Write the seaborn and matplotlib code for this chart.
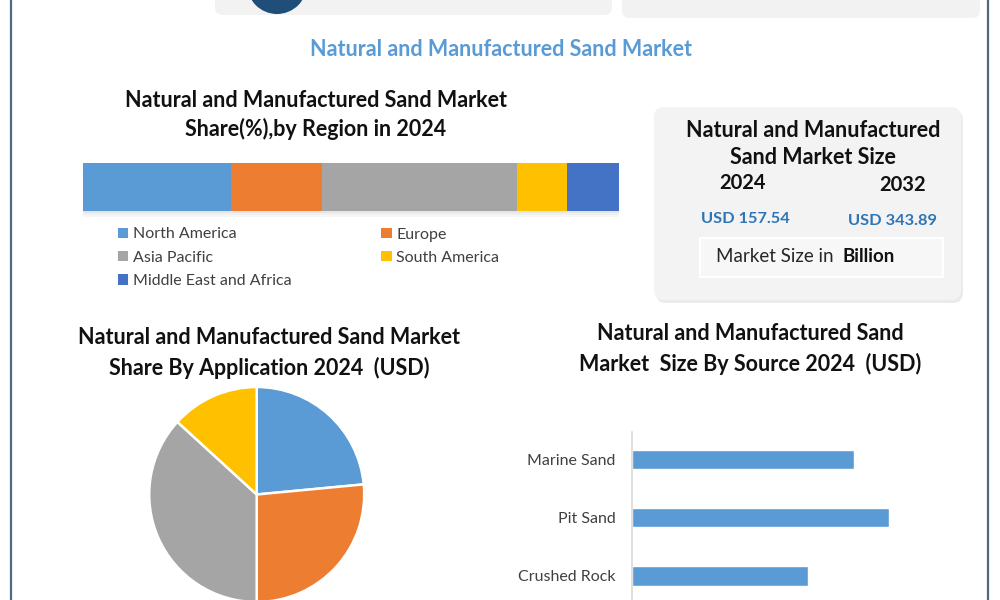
import matplotlib
matplotlib.use("Agg")
import matplotlib.pyplot as plt
from matplotlib import font_manager
from matplotlib.patches import FancyBboxPatch, Rectangle, Circle
import seaborn as sns
import numpy as np

# ---------------- data ----------------
regions = ["North America", "Europe", "Asia Pacific", "South America", "Middle East and Africa"]
region_share = [27.6, 17.0, 36.4, 9.3, 9.7]
region_colors = ["#5b9bd5", "#ed7d31", "#a5a5a5", "#ffc000", "#4472c4"]

applications = ["Application 1", "Application 2", "Application 3", "Application 4"]
application_share = [23.5, 26.5, 36.8, 13.2]
application_colors = ["#5b9bd5", "#ed7d31", "#a5a5a5", "#ffc000"]

sources = ["Marine Sand", "Pit Sand", "Crushed Rock"]
source_size = [44.4, 51.4, 35.2]

years = ["2024", "2032"]
market_size = ["USD 157.54", "USD 343.89"]

# ---------------- fonts ----------------
sns.set_theme(style="white")
avail = {f.name for f in font_manager.fontManager.ttflist}
base = "Lato" if "Lato" in avail else "DejaVu Sans"
plt.rcParams["font.family"] = [base, "DejaVu Sans"]

W, H = 1000, 600
fig = plt.figure(figsize=(10, 6), dpi=100)
fig.patch.set_facecolor("white")


def P(x, y):
    return (x / W, 1 - y / H)


def rect(x0, y0, x1, y1):
    return [x0 / W, 1 - y1 / H, (x1 - x0) / W, (y1 - y0) / H]


# background decorations (figure-level axes)
bg = fig.add_axes([0, 0, 1, 1], zorder=-5)
bg.set_xlim(0, W)
bg.set_ylim(H, 0)
bg.axis("off")
# top cards
bg.add_patch(FancyBboxPatch((215, -20), 397, 35, boxstyle="round,pad=0,rounding_size=8",
                            fc="#f2f2f2", ec="none"))
bg.add_patch(FancyBboxPatch((622, -20), 358, 38, boxstyle="round,pad=0,rounding_size=8",
                            fc="#f2f2f2", ec="none"))
bg.add_patch(Circle((277, -16), 30, fc="#1f4e79", ec="none"))
# side borders
bg.plot([10.5, 10.5], [0, H], color="#4d6a82", lw=1.6)
bg.plot([987.5, 987.5], [0, H], color="#4d6a82", lw=1.6)
# market size card with subtle shadow
bg.add_patch(FancyBboxPatch((656, 110), 307, 193, boxstyle="round,pad=0,rounding_size=10",
                            fc="#ebebeb", ec="none"))
bg.add_patch(FancyBboxPatch((654, 107), 307, 193, boxstyle="round,pad=0,rounding_size=10",
                            fc="#f3f3f3", ec="none"))
bg.add_patch(Rectangle((700, 238), 243, 39, fc="#f7f7f7", ec="#ffffff", lw=1.5))
# shadow under stacked bar
for i, a in enumerate([0.10, 0.06, 0.03]):
    bg.add_patch(Rectangle((83, 211 + i * 2), 536, 2, fc="black", alpha=a, ec="none"))

# ---------------- titles ----------------
fig.text(*P(501, 49), "Natural and Manufactured Sand Market", ha="center", va="center",
         fontsize=15.5, fontweight="bold", color="#5b9bd5")

fig.text(*P(316, 115), "Natural and Manufactured Sand Market\nShare(%),by Region in 2024",
         ha="center", va="center", fontsize=15.5, fontweight="bold", color="#111111",
         linespacing=1.4)

fig.text(*P(813, 144), "Natural and Manufactured\nSand Market Size", ha="center", va="center",
         fontsize=15.5, fontweight="bold", color="#111111", linespacing=1.35)
fig.text(*P(743, 183), years[0], ha="center", va="center", fontsize=14.5,
         fontweight="bold", color="#111111")
fig.text(*P(903, 185), years[1], ha="center", va="center", fontsize=14.5,
         fontweight="bold", color="#111111")
fig.text(*P(745, 219), market_size[0], ha="center", va="center", fontsize=11.8,
         fontweight="bold", color="#2e75b6")
fig.text(*P(893, 221), market_size[1], ha="center", va="center", fontsize=11.8,
         fontweight="bold", color="#2e75b6")
fig.text(*P(716, 257), "Market Size in", ha="left", va="center", fontsize=13.5,
         color="#262626")
fig.text(*P(842, 257), "Billion", ha="left", va="center", fontsize=13.5,
         fontweight="bold", color="#111111")

fig.text(*P(269, 353), "Natural and Manufactured Sand Market\nShare By Application 2024  (USD)",
         ha="center", va="center", fontsize=15.5, fontweight="bold", color="#111111",
         linespacing=1.5)
fig.text(*P(750, 349), "Natural and Manufactured Sand\nMarket  Size By Source 2024  (USD)",
         ha="center", va="center", fontsize=15.5, fontweight="bold", color="#111111",
         linespacing=1.5)

# ---------------- stacked region bar ----------------
axs = fig.add_axes(rect(83, 163, 619, 211))
left = 0.0
handles = []
for name, val, col in zip(regions, region_share, region_colors):
    h = axs.barh([0], [val], left=left, color=col, height=1.0, edgecolor="none", label=name)
    handles.append(h)
    left += val
axs.set_xlim(0, sum(region_share))
axs.set_ylim(-0.5, 0.5)
axs.axis("off")

order = [0, 2, 4, 1, 3]
leg = fig.legend([handles[i] for i in order], [regions[i] for i in order],
                 loc="upper left", bbox_to_anchor=P(118, 227.5), ncol=2, frameon=False,
                 fontsize=11.5, handlelength=0.65, handleheight=0.65, handletextpad=0.3,
                 columnspacing=5.6, labelspacing=0.58, borderaxespad=0, borderpad=0)
for t in leg.get_texts():
    t.set_color("#404040")

# ---------------- pie ----------------
cx, cy, r = 256.7, 494.5, 107.5
axp = fig.add_axes(rect(cx - r, cy - r, cx + r, cy + r))
axp.pie(application_share, colors=application_colors, startangle=90, counterclock=False,
        radius=1, wedgeprops=dict(edgecolor="white", linewidth=1.8))
axp.set_xlim(-1.0, 1.0)
axp.set_ylim(-1.0, 1.0)
axp.set_aspect("equal")
axp.axis("off")

# ---------------- source bar chart ----------------
axb = fig.add_axes(rect(632, 432, 960, 640))
sns.barplot(x=source_size, y=sources, orient="h", color="#5b9bd5", width=0.33,
            saturation=1, ax=axb)
axb.set_xlim(0, 65.6)
axb.set_ylim(3.10, -0.47)
for s in ["top", "right", "bottom"]:
    axb.spines[s].set_visible(False)
axb.spines["left"].set_color("#d9d9d9")
axb.spines["left"].set_linewidth(1.2)
axb.set_xticks([])
axb.set_xlabel("")
axb.set_ylabel("")
axb.tick_params(axis="y", length=0, pad=12, labelsize=11.5, labelcolor="#404040")
axb.patch.set_alpha(0)

fig.savefig("out.png", dpi=100, facecolor="white")
